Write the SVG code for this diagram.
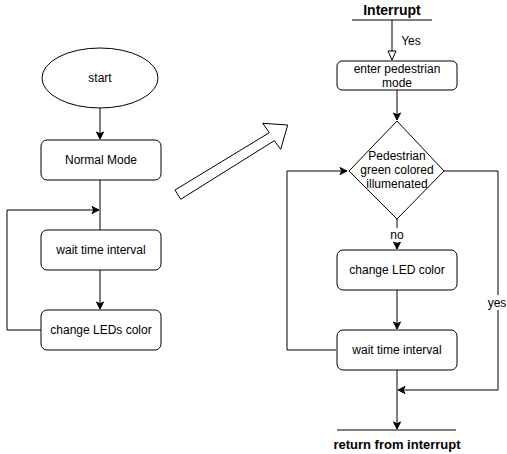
<svg xmlns="http://www.w3.org/2000/svg" width="507" height="454" viewBox="0 0 507 454">
<style>
.box{fill:#fff;stroke:#000;stroke-width:1}
.ln{fill:none;stroke:#000;stroke-width:1}
.t{font-family:"Liberation Sans",Arial,sans-serif;font-size:12px;fill:#000;text-anchor:middle}
.b{font-family:"Liberation Sans",Arial,sans-serif;font-weight:bold;fill:#000;text-anchor:middle}
</style>
<defs>
<marker id="ar" markerWidth="10" markerHeight="10" refX="8" refY="5" orient="auto" markerUnits="userSpaceOnUse">
<path d="M1,1.5 L8,5 L1,8.5 L2.8,5 Z" fill="#000" stroke="#000" stroke-width="1"/>
</marker>
<marker id="ho" markerWidth="14" markerHeight="12" refX="10" refY="5" orient="auto" markerUnits="userSpaceOnUse">
<path d="M1,1 L10,5 L1,9 Z" fill="#fff" stroke="#000" stroke-width="1"/>
</marker>
</defs>
<rect width="507" height="454" fill="#fff"/>
<g id="connectors">
<line class="ln" x1="100" y1="108" x2="100" y2="139" marker-end="url(#ar)"/>
<line class="ln" x1="100" y1="180" x2="100" y2="230"/>
<line class="ln" x1="100" y1="270" x2="100" y2="309" marker-end="url(#ar)"/>
<polyline class="ln" points="41,330 7,330 7,210 99,210" marker-end="url(#ar)"/>
<line class="ln" x1="392" y1="20" x2="392" y2="60" marker-end="url(#ho)"/>
<line class="ln" x1="397" y1="90" x2="397" y2="120" marker-end="url(#ar)"/>
<line class="ln" x1="397" y1="219" x2="397" y2="249" marker-end="url(#ar)"/>
<line class="ln" x1="397" y1="290" x2="397" y2="329" marker-end="url(#ar)"/>
<polyline class="ln" points="336,350 287,350 287,171 347,171" marker-end="url(#ar)"/>
<polyline class="ln" points="444,171 498,171 498,390 398,390" marker-end="url(#ar)"/>
<line class="ln" x1="397" y1="370" x2="397" y2="429" marker-end="url(#ar)"/>
<rect x="486" y="295" width="22" height="15" fill="#fff"/>
<text class="t" x="497" y="307">yes</text>
<rect x="388" y="228" width="18" height="14" fill="#fff"/>
<text class="t" x="397" y="239">no</text>
<text class="t" x="411" y="45">Yes</text>
</g>
<g id="start"><ellipse class="box" cx="100" cy="78" rx="58" ry="30"/><text class="t" x="100" y="82">start</text></g>
<g id="normal-mode"><rect class="box" x="41" y="140" width="120" height="40" rx="6"/><text class="t" x="101" y="164">Normal Mode</text></g>
<g id="wait-left"><rect class="box" x="41" y="230" width="120" height="40" rx="6"/><text class="t" x="101" y="254">wait time interval</text></g>
<g id="change-leds"><rect class="box" x="41" y="310" width="120" height="40" rx="6"/><text class="t" x="101" y="334">change LEDs color</text></g>
<g id="big-arrow"><polygon class="box" points="175,190 269.3,132.7 262.7,123.3 287.7,125 280.7,149.3 274.3,140.7 180.7,199.3"/></g>
<g id="interrupt"><line class="ln" x1="352" y1="20" x2="432" y2="20"/><text class="b" x="392" y="15" font-size="14">Interrupt</text></g>
<g id="enter-ped"><rect class="box" x="337" y="61" width="120" height="29" rx="5"/><text class="t" x="397" y="73">enter pedestrian</text><text class="t" x="397" y="87">mode</text></g>
<g id="decision"><polygon class="box" points="397,121 444,171 397,219 349,171"/><text class="t" x="397" y="160">Pedestrian</text><text class="t" x="397" y="174">green colored</text><text class="t" x="397" y="188">illumenated</text></g>
<g id="change-led"><rect class="box" x="337" y="250" width="120" height="40" rx="6"/><text class="t" x="397" y="274">change LED color</text></g>
<g id="wait-right"><rect class="box" x="337" y="330" width="120" height="40" rx="6"/><text class="t" x="397" y="354">wait time interval</text></g>
<g id="return"><line class="ln" x1="337" y1="430" x2="456" y2="430"/><text class="b" x="397" y="449" font-size="13">return from interrupt</text></g>
</svg>
